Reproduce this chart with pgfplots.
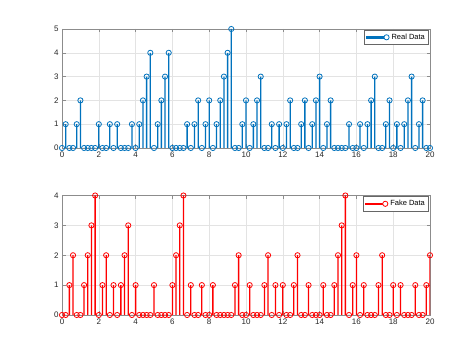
\documentclass[border=0pt]{standalone}
\usepackage{fontspec}
\setmainfont{Liberation Sans}
\usepackage{pgfplots}
\usepackage{pgfplotstable}
\pgfplotsset{compat=1.18}
\definecolor{mblue}{rgb}{0,0.447,0.741}
\definecolor{mred}{rgb}{1,0,0}
\definecolor{axgray}{gray}{0.55}
\definecolor{txtgray}{gray}{0.15}
\pgfplotstableread{
x y
0 0
0.2 1
0.4 0
0.6 0
0.8 1
1 2
1.2 0
1.4 0
1.6 0
1.8 0
2 1
2.2 0
2.4 0
2.6 1
2.8 0
3 1
3.2 0
3.4 0
3.6 0
3.8 1
4 0
4.2 1
4.4 2
4.6 3
4.8 4
5 0
5.2 1
5.4 2
5.6 3
5.8 4
6 0
6.2 0
6.4 0
6.6 0
6.8 1
7 0
7.2 1
7.4 2
7.6 0
7.8 1
8 2
8.2 0
8.4 1
8.6 2
8.8 3
9 4
9.2 5
9.4 0
9.6 0
9.8 1
10 2
10.2 0
10.4 1
10.6 2
10.8 3
11 0
11.2 0
11.4 1
11.6 0
11.8 1
12 0
12.2 1
12.4 2
12.6 0
12.8 0
13 1
13.2 2
13.4 0
13.6 1
13.8 2
14 3
14.2 0
14.4 1
14.6 2
14.8 0
15 0
15.2 0
15.4 0
15.6 1
15.8 0
16 0
16.2 1
16.4 0
16.6 1
16.8 2
17 3
17.2 0
17.4 0
17.6 1
17.8 2
18 0
18.2 1
18.4 0
18.6 1
18.8 2
19 3
19.2 0
19.4 1
19.6 2
19.8 0
20 0
}\realdata
\pgfplotstableread{
x y
0 0
0.2 0
0.4 1
0.6 2
0.8 0
1 0
1.2 1
1.4 2
1.6 3
1.8 4
2 0
2.2 1
2.4 2
2.6 0
2.8 1
3 0
3.2 1
3.4 2
3.6 3
3.8 0
4 1
4.2 0
4.4 0
4.6 0
4.8 0
5 1
5.2 0
5.4 0
5.6 0
5.8 0
6 1
6.2 2
6.4 3
6.6 4
6.8 0
7 1
7.2 0
7.4 0
7.6 1
7.8 0
8 0
8.2 1
8.4 0
8.6 0
8.8 0
9 0
9.2 0
9.4 1
9.6 2
9.8 0
10 0
10.2 1
10.4 0
10.6 0
10.8 0
11 1
11.2 2
11.4 0
11.6 1
11.8 0
12 1
12.2 0
12.4 0
12.6 1
12.8 2
13 0
13.2 0
13.4 1
13.6 0
13.8 0
14 0
14.2 1
14.4 0
14.6 0
14.8 1
15 2
15.2 3
15.4 4
15.6 0
15.8 1
16 2
16.2 0
16.4 1
16.6 0
16.8 0
17 0
17.2 1
17.4 2
17.6 0
17.8 0
18 1
18.2 0
18.4 1
18.6 0
18.8 0
19 0
19.2 1
19.4 0
19.6 0
19.8 1
20 2
}\fakedata
\pgfplotsset{
  mstyle/.style={
    scale only axis, width=368pt, height=119pt,
    anchor=south west,
    xmin=0, xmax=20,
    xtick={0,2,...,20},
    ymin=0,
    axis line style={axgray, line width=0.5pt},
    tick style={axgray, line width=0.5pt},
    tick align=inside, major tick length=3.5pt,
    grid=major, major grid style={gray!22, line width=0.4pt},
    tick label style={font=\fontsize{8}{9}\selectfont, text=txtgray},
    /pgf/number format/assume math mode=true,
    xtick pos=both, ytick pos=both,
    legend style={font=\fontsize{7.5}{9}\selectfont, draw=gray!80!black, line width=0.4pt,
      at={(0.997,0.993)}, anchor=north east, inner sep=1.8pt,
      row sep=0pt, cells={anchor=west}},
  },
}
\begin{document}
\begin{tikzpicture}
\path[use as bounding box] (0,0) rectangle (474pt,355pt);
\begin{axis}[mstyle, at={(62pt,207pt)}, ymax=5, ytick={0,...,5},
  legend image code/.code={
    \fill[mblue] (0pt,-0.6pt) rectangle (20pt,0.6pt);
    \draw[draw=mblue, fill=white, line width=0.8pt] (20pt,0pt) circle (2.6pt);
  }]
\addplot[ybar, bar width=1.3pt, fill=mblue, draw=none, forget plot] table[x=x,y=y] {\realdata};
\addplot[only marks, mark=o, mark size=2.6pt,
  mark options={solid, draw=mblue, fill=white, line width=0.8pt}] table[x=x,y=y] {\realdata};
\addlegendentry{Real Data}
\end{axis}
\begin{axis}[mstyle, at={(62pt,40pt)}, height=119.5pt, ymax=4, ytick={0,...,4},
  legend image code/.code={
    \fill[mred] (0pt,-0.6pt) rectangle (20pt,0.6pt);
    \draw[draw=mred, fill=white, line width=0.8pt] (20pt,0pt) circle (2.6pt);
  }]
\addplot[ybar, bar width=1.3pt, fill=mred, draw=none, forget plot] table[x=x,y=y] {\fakedata};
\addplot[only marks, mark=o, mark size=2.6pt,
  mark options={solid, draw=mred, fill=white, line width=0.8pt}] table[x=x,y=y] {\fakedata};
\addlegendentry{Fake Data}
\end{axis}
\end{tikzpicture}
\end{document}
